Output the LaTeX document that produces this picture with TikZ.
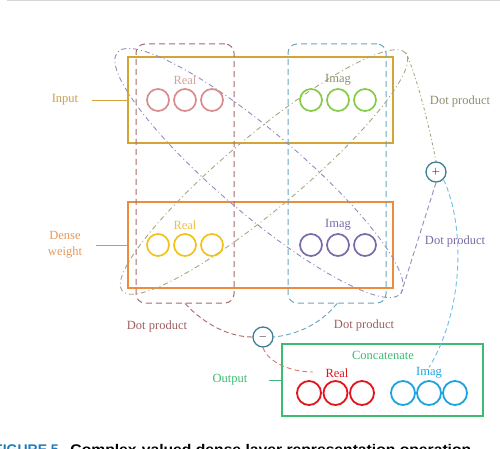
\documentclass[tikz,border=0pt]{standalone}
\usepackage{fontspec}
\setmainfont{Liberation Serif}
\newfontfamily\capfont{Liberation Sans}
\usetikzlibrary{shapes.geometric}
\definecolor{cgold}{HTML}{D4A437}
\definecolor{cgoldt}{HTML}{C8A050}
\definecolor{corange}{HTML}{EC8C3C}
\definecolor{corangt}{HTML}{E8985A}
\definecolor{cmaroon}{HTML}{A86B6B}
\definecolor{cmaroont}{HTML}{A06060}
\definecolor{cteal}{HTML}{6BA6BC}
\definecolor{cpink}{HTML}{D98C8C}
\definecolor{cpinkt}{HTML}{D8A0A0}
\definecolor{cgreen}{HTML}{84CC48}
\definecolor{cgrayt}{HTML}{8F8F70}
\definecolor{cyellow}{HTML}{F2C218}
\definecolor{cyellowt}{HTML}{F0C040}
\definecolor{cpurple}{HTML}{7A6AA6}
\definecolor{cred}{HTML}{E3141E}
\definecolor{ccyan}{HTML}{1CA4E0}
\definecolor{coutg}{HTML}{3DBB72}
\definecolor{cop}{HTML}{3E7F93}
\definecolor{colive}{HTML}{A8A880}
\definecolor{cploop}{HTML}{8E8EC0}
\definecolor{clblue}{HTML}{6EC0E6}
\definecolor{credl}{HTML}{D87878}
\definecolor{ccapblue}{HTML}{1A7CC0}
\begin{document}
\begin{tikzpicture}[x=1pt,y=-1pt,
  txt/.style={font=\fontsize{12.5}{14}\selectfont, inner sep=0pt},
  neur/.style={circle, draw, line width=1.7pt, minimum size=22pt, inner sep=0pt},
  oneur/.style={circle, draw, line width=1.8pt, minimum size=24pt, inner sep=0pt},
  layerbox/.style={draw, line width=1.1pt, inner sep=0pt},
  groupbox/.style={draw, dashed, dash pattern=on 6pt off 4pt, line width=1pt, rounded corners=9pt, inner sep=0pt, minimum width=98pt, minimum height=259pt},
  loopline/.style={draw, ellipse, line width=0.9pt, dash pattern=on 5pt off 3pt on 1pt off 3pt, inner sep=0pt},
  opnode/.style={circle, draw=cop, line width=1.3pt, minimum size=20pt, inner sep=0pt, font=\fontsize{11}{12}\selectfont},
  conn/.style={dashed, dash pattern=on 5pt off 3pt, line width=0.9pt}
]
\useasboundingbox (0,0) rectangle (500,449);
\fill[white] (0,0) rectangle (500,449);
\draw[color={rgb,255:red,215;green,215;blue,215}, line width=1pt] (7,1) -- (500,1);

% layer boxes
\node[layerbox, draw=cgold, minimum width=265pt, minimum height=86pt] (inbox) at (260.5,100) {};
\node[layerbox, draw=corange, minimum width=265pt, minimum height=86pt] (dbox) at (260.5,245) {};

% group boxes
\node[groupbox, draw=cmaroon] (mbox) at (185,173.5) {};
\node[groupbox, draw=cteal] (tbox) at (337,173.5) {};

% cross loops
\node[loopline, draw=colive, rotate=40, minimum width=370pt, minimum height=74pt] (oloop) at (264,172) {};
\node[loopline, draw=cploop, rotate=-40.4, minimum width=372pt, minimum height=82pt] (ploop) at (259,173) {};

% neurons
\node[txt, text=cpinkt] (irl) at (185,80) {Real};
\node[neur, draw=cpink] (ir1) at (158,100) {};
\node[neur, draw=cpink] (ir2) at (185,100) {};
\node[neur, draw=cpink] (ir3) at (212,100) {};
\node[txt, text=cgrayt] (iil) at (338,80) {Imag};
\node[neur, draw=cgreen] (ii1) at (311,100) {};
\node[neur, draw=cgreen] (ii2) at (338,100) {};
\node[neur, draw=cgreen] (ii3) at (365,100) {};
\node[txt, text=cyellowt] (drl) at (185,225) {Real};
\node[neur, draw=cyellow] (dr1) at (158,245) {};
\node[neur, draw=cyellow] (dr2) at (185,245) {};
\node[neur, draw=cyellow] (dr3) at (212,245) {};
\node[txt, text=cpurple] (dil) at (338,225) {Imag};
\node[neur, draw=cpurple] (di1) at (311,245) {};
\node[neur, draw=cpurple] (di2) at (338,245) {};
\node[neur, draw=cpurple] (di3) at (365,245) {};

% side labels
\node[txt, text=cgoldt] (inlab) at (65,100) {Input};
\draw[cgold, line width=0.8pt] (inlab.east) ++(14,0) coordinate (inl) -- (inbox.west);
\node[txt, text=corangt, align=center, font=\fontsize{12.5}{16.5}\selectfont] (dlab) at (65,245) {Dense\\weight};
\draw[corange, line width=0.8pt] (dlab.east) ++(14,0) coordinate (dl) -- (dbox.west);

% operators
\node[opnode] (plus) at (436,172) {$+$};
\node[opnode] (minus) at (263,337) {$-$};

% output
\node[layerbox, draw=coutg, minimum width=201pt, minimum height=72pt] (obox) at (382.5,380) {};
\node[txt, text=coutg] (concat) at (383,355) {Concatenate};
\node[txt, text=cred] (orl) at (337,373) {Real};
\node[txt, text=ccyan] (oil) at (429,373) {Imag};
\node[oneur, draw=cred] (or1) at (309,393) {};
\node[oneur, draw=cred] (or2) at (335.5,393) {};
\node[oneur, draw=cred] (or3) at (362,393) {};
\node[oneur, draw=ccyan] (oi1) at (403,393) {};
\node[oneur, draw=ccyan] (oi2) at (429,393) {};
\node[oneur, draw=ccyan] (oi3) at (455,393) {};
\node[txt, text=coutg] (outlab) at (230,380) {Output};
\draw[coutg, line width=0.8pt] (outlab.east) ++(21,0) coordinate (ol) -- (obox.west);

% dot product labels
\node[txt, text=colive!85!black] (dp1) at (460,101) {Dot product};
\node[txt, text=cpurple] (dp2) at (455,241) {Dot product};
\node[txt, text=cmaroont] (dp3) at (157,326) {Dot product};
\node[txt, text=cmaroont] (dp4) at (364,325) {Dot product};

% connectors
\draw[colive, line width=0.9pt, dash pattern=on 1pt off 2.5pt on 3pt off 2.5pt] (oloop.east) .. controls (418,80) and (430,130) .. (plus.north);
\draw[cploop, conn] (plus.south) -- (ploop.east);
\draw[clblue, conn] (plus.south east) .. controls (466,228) and (463,312) .. (oil.north);
\draw[cmaroon, conn] (mbox.south) .. controls (205,325) and (230,337) .. (minus.west);
\draw[cteal, conn] (tbox.south) .. controls (320,325) and (295,335) .. (minus.east);
\coordinate (redend) at (313,372);
\draw[credl, conn] (minus.south) .. controls (268,362) and (290,372) .. (redend);

% caption (cut off by the image edge, as in the reference)
\node[anchor=base west, inner sep=0pt, font=\capfont\bfseries\fontsize{14}{15}\selectfont] (cap) at (-6,454) {\textcolor{ccapblue}{FIGURE 5.}\ \ \scalebox{1.12}[1]{Complex-valued dense layer representation operation}};
\end{tikzpicture}
\end{document}
